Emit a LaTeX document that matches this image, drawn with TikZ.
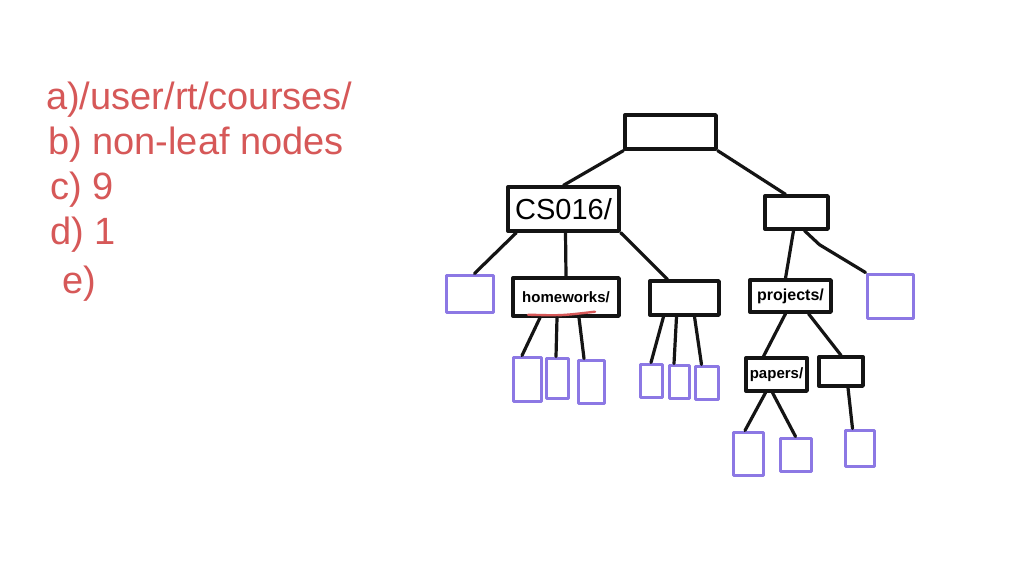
\documentclass[tikz,border=0pt]{standalone}
\usepackage{fontspec}
\setmainfont{Liberation Sans}
\definecolor{ink}{RGB}{20,20,20}
\definecolor{redink}{RGB}{214,88,88}
\definecolor{purp}{RGB}{140,120,228}
\tikzset{
  dirbox/.style={draw=ink,line width=3.4pt,inner sep=0pt,line join=round},
  leafbox/.style={draw=purp,line width=3pt,inner sep=0pt,line join=round},
  edge/.style={draw=ink,line width=3.2pt,line cap=round},
  ans/.style={text=redink,anchor=west,inner sep=0pt,font=\fontsize{38}{40}\selectfont}
}
\begin{document}
\begin{tikzpicture}[x=1pt,y=-1pt]
\useasboundingbox (0,0) rectangle (1024,576);
\fill[white] (0,0) rectangle (1024,576);
% answers
\node[ans] (qa) at (46,100) {a)/user/rt/courses/};
\node[ans] (qb) at (48,145) {b) non-leaf nodes};
\node[ans] (qc) at (50,190) {c) 9};
\node[ans] (qd) at (50,235) {d) 1};
\node[ans] (qe) at (62,284) {e)};
% tree nodes
\node[dirbox,minimum width=91pt,minimum height=34pt] (root) at (670.5,132) {};
\node[dirbox,minimum width=111pt,minimum height=44pt,font=\fontsize{29}{31}\selectfont] (cs) at (563.5,209) {CS016/};
\node[dirbox,minimum width=63pt,minimum height=33pt] (rmid) at (796.5,212.5) {};
\node[leafbox,minimum width=47pt,minimum height=37pt] (l1) at (469.5,293.5) {};
\node[dirbox,minimum width=106pt,minimum height=38pt,font=\fontsize{15}{17}\selectfont\bfseries] (hw) at (566,297) {homeworks/};
\node[dirbox,minimum width=69pt,minimum height=34pt] (emid) at (684.5,298) {};
\node[dirbox,minimum width=81pt,minimum height=32pt,font=\fontsize{16}{18}\selectfont\bfseries] (proj) at (790.5,296) {projects/};
\node[leafbox,minimum width=46pt,minimum height=44pt] (lr) at (890,296) {};
\node[leafbox,minimum width=28pt,minimum height=44pt] (hw1) at (527,379) {};
\node[leafbox,minimum width=22pt,minimum height=40pt] (hw2) at (557,378) {};
\node[leafbox,minimum width=26pt,minimum height=43pt] (hw3) at (591,381.5) {};
\node[leafbox,minimum width=22pt,minimum height=33pt] (e1) at (651,380.5) {};
\node[leafbox,minimum width=20pt,minimum height=33pt] (e2) at (679,381.5) {};
\node[leafbox,minimum width=23pt,minimum height=33pt] (e3) at (706.5,382.5) {};
\node[dirbox,minimum width=61pt,minimum height=33pt,font=\fontsize{15}{17}\selectfont\bfseries] (pap) at (776.5,374.5) {papers/};
\node[dirbox,minimum width=44pt,minimum height=29pt] (eb) at (841,371.5) {};
\node[leafbox,minimum width=30pt,minimum height=43pt] (p1) at (748,453.5) {};
\node[leafbox,minimum width=31pt,minimum height=33pt] (p2) at (795.5,454.5) {};
\node[leafbox,minimum width=29pt,minimum height=36pt] (ebl) at (859.5,448) {};
% underline under homeworks
\draw[draw=redink,line width=2.4pt,line cap=round] ([xshift=-38pt,yshift=3pt]hw.south) .. controls ([xshift=-5pt,yshift=2pt]hw.south) .. ([xshift=29pt,yshift=6pt]hw.south);
% edges
\draw[edge] (root.south west) -- (cs.north);
\draw[edge] (root.south east) -- ([xshift=-11pt]rmid.north);
\draw[edge] ([xshift=10pt]cs.south west) -- ([xshift=5pt]l1.north);
\draw[edge] ([xshift=2pt]cs.south) -- (hw.north);
\draw[edge] (cs.south east) -- ([xshift=-17pt]emid.north);
\draw[edge] ([xshift=-26pt]hw.south) -- ([xshift=-5pt]hw1.north);
\draw[edge] ([xshift=-9pt]hw.south) -- ([xshift=-1pt]hw2.north);
\draw[edge] ([xshift=13pt]hw.south) -- ([xshift=-7pt]hw3.north);
\draw[edge] ([xshift=-21pt]emid.south) -- (e1.north);
\draw[edge] ([xshift=-8pt]emid.south) -- ([xshift=-5pt]e2.north);
\draw[edge] ([xshift=10pt]emid.south) -- ([xshift=-5pt]e3.north);
\draw[edge] ([xshift=-3pt]rmid.south) -- ([xshift=-5pt]proj.north);
\draw[edge] ([xshift=8pt]rmid.south) -- ++(15,14) -- (lr.north west);
\draw[edge] ([xshift=-5pt]proj.south) -- ([xshift=-13pt]pap.north);
\draw[edge] ([xshift=18pt]proj.south) -- (eb.north);
\draw[edge] ([xshift=-11pt]pap.south) -- ([xshift=-3pt]p1.north);
\draw[edge] ([xshift=-4pt]pap.south) -- (p2.north);
\draw[edge] ([xshift=7pt]eb.south) -- ([xshift=-7pt]ebl.north);
\end{tikzpicture}
\end{document}
